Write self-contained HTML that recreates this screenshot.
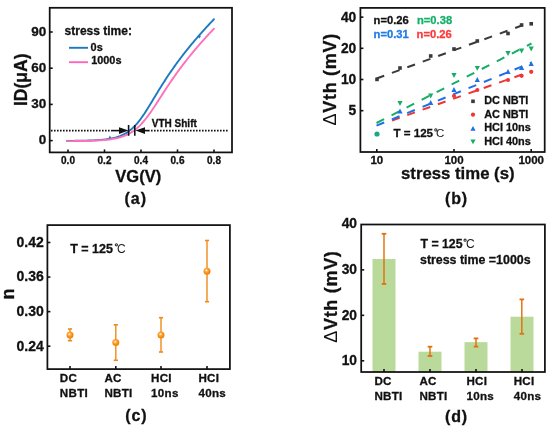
<!DOCTYPE html><html><head><meta charset="utf-8"><style>html,body{margin:0;padding:0;background:#fff;}svg{display:block;will-change:transform;}text{font-family:"Liberation Sans",sans-serif;}</style></head><body>
<svg width="550" height="431" viewBox="0 0 550 431">
<defs><radialGradient id="og" cx="0.42" cy="0.38" r="0.62"><stop offset="0" stop-color="#ffffff"/><stop offset="0.3" stop-color="#ffb04a"/><stop offset="0.7" stop-color="#f58a0c"/><stop offset="1" stop-color="#ee8410"/></radialGradient></defs>
<rect width="550" height="431" fill="#fff"/>
<rect x="49.7" y="7.8" width="182.3" height="144.6" fill="none" stroke="#111" stroke-width="1.75"/>
<line x1="49.7" y1="140.6" x2="52.7" y2="140.6" stroke="#111" stroke-width="1.6" />
<text x="46.3" y="144.2" font-size="13.5" text-anchor="end" font-weight="bold" fill="#111" stroke="#111" stroke-width="0.3" >0</text>
<line x1="49.7" y1="104.39999999999999" x2="52.7" y2="104.39999999999999" stroke="#111" stroke-width="1.6" />
<text x="46.3" y="107.99999999999999" font-size="13.5" text-anchor="end" font-weight="bold" fill="#111" stroke="#111" stroke-width="0.3" >30</text>
<line x1="49.7" y1="68.19999999999999" x2="52.7" y2="68.19999999999999" stroke="#111" stroke-width="1.6" />
<text x="46.3" y="71.79999999999998" font-size="13.5" text-anchor="end" font-weight="bold" fill="#111" stroke="#111" stroke-width="0.3" >60</text>
<line x1="49.7" y1="32.0" x2="52.7" y2="32.0" stroke="#111" stroke-width="1.6" />
<text x="46.3" y="35.6" font-size="13.5" text-anchor="end" font-weight="bold" fill="#111" stroke="#111" stroke-width="0.3" >90</text>
<line x1="68.0" y1="152.4" x2="68.0" y2="149.4" stroke="#111" stroke-width="1.6" />
<text x="68.0" y="164.2" font-size="10" text-anchor="middle" font-weight="bold" fill="#111" stroke="#111" stroke-width="0.3" >0.0</text>
<line x1="104.5" y1="152.4" x2="104.5" y2="149.4" stroke="#111" stroke-width="1.6" />
<text x="104.5" y="164.2" font-size="10" text-anchor="middle" font-weight="bold" fill="#111" stroke="#111" stroke-width="0.3" >0.2</text>
<line x1="141.0" y1="152.4" x2="141.0" y2="149.4" stroke="#111" stroke-width="1.6" />
<text x="141.0" y="164.2" font-size="10" text-anchor="middle" font-weight="bold" fill="#111" stroke="#111" stroke-width="0.3" >0.4</text>
<line x1="177.5" y1="152.4" x2="177.5" y2="149.4" stroke="#111" stroke-width="1.6" />
<text x="177.5" y="164.2" font-size="10" text-anchor="middle" font-weight="bold" fill="#111" stroke="#111" stroke-width="0.3" >0.6</text>
<line x1="214.0" y1="152.4" x2="214.0" y2="149.4" stroke="#111" stroke-width="1.6" />
<text x="214.0" y="164.2" font-size="10" text-anchor="middle" font-weight="bold" fill="#111" stroke="#111" stroke-width="0.3" >0.8</text>
<text x="115.3" y="181.5" font-size="16.5" text-anchor="start" font-weight="bold" fill="#111" stroke="#111" stroke-width="0.3" >VG(V)</text>
<text x="135.75" y="204.1" font-size="16" text-anchor="middle" font-weight="bold" fill="#111" stroke="#111" stroke-width="0.3" letter-spacing="0.9">(a)</text>
<text transform="translate(27.3,106) rotate(-90)" font-size="17.5" font-weight="bold" fill="#111" stroke="#111" stroke-width="0.3">ID(μA)</text>
<text x="64.6" y="35" font-size="12" text-anchor="start" font-weight="bold" fill="#111" stroke="#111" stroke-width="0.3" >stress time:</text>
<line x1="69" y1="47.8" x2="88" y2="47.8" stroke="#1a7abf" stroke-width="1.9" />
<text x="90.6" y="50.5" font-size="10.9" text-anchor="start" font-weight="bold" fill="#111" stroke="#111" stroke-width="0.3" >0s</text>
<line x1="69" y1="62.2" x2="88" y2="62.2" stroke="#ff66b8" stroke-width="1.9" />
<text x="91.2" y="64.3" font-size="10.9" text-anchor="start" font-weight="bold" fill="#111" stroke="#111" stroke-width="0.3" >1000s</text>
<polyline points="67.0,140.88 68.0,140.88 69.0,140.87 70.0,140.86 71.0,140.85 72.0,140.85 73.0,140.84 74.0,140.83 75.0,140.82 76.0,140.81 77.0,140.80 78.0,140.78 79.0,140.77 80.0,140.75 81.0,140.74 82.0,140.72 83.0,140.70 84.0,140.68 85.0,140.65 86.0,140.63 87.0,140.60 88.0,140.57 89.0,140.54 90.0,140.51 91.0,140.47 92.0,140.43 93.0,140.39 94.0,140.34 95.0,140.29 96.0,140.23 97.0,140.17 98.0,140.11 99.0,140.03 100.0,139.96 101.0,139.87 102.0,139.78 103.0,139.69 104.0,139.58 105.0,139.47 106.0,139.34 107.0,139.21 108.0,139.06 109.0,138.90 110.0,138.73 111.0,138.55 112.0,138.35 113.0,138.13 114.0,137.89 115.0,137.64 116.0,137.37 117.0,137.07 118.0,136.75 119.0,136.40 120.0,136.03 121.0,135.63 122.0,135.19 123.0,134.73 124.0,134.22 125.0,133.68 126.0,133.10 127.0,132.48 128.0,131.81 129.0,131.10 130.0,130.34 131.0,129.53 132.0,128.66 133.0,127.75 134.0,126.78 135.0,125.75 136.0,124.67 137.0,123.53 138.0,122.34 139.0,121.10 140.0,119.80 141.0,118.46 142.0,117.07 143.0,115.63 144.0,114.16 145.0,112.65 146.0,111.11 147.0,109.54 148.0,107.94 149.0,106.33 150.0,104.70 151.0,103.05 152.0,101.40 153.0,99.75 154.0,98.09 155.0,96.44 156.0,94.78 157.0,93.14 158.0,91.50 159.0,89.87 160.0,88.25 161.0,86.64 162.0,85.05 163.0,83.47 164.0,81.91 165.0,80.36 166.0,78.82 167.0,77.30 168.0,75.79 169.0,74.30 170.0,72.83 171.0,71.37 172.0,69.92 173.0,68.49 174.0,67.08 175.0,65.67 176.0,64.29 177.0,62.91 178.0,61.55 179.0,60.20 180.0,58.87 181.0,57.54 182.0,56.23 183.0,54.93 184.0,53.65 185.0,52.37 186.0,51.11 187.0,49.85 188.0,48.61 189.0,47.37 190.0,46.15 191.0,44.93 192.0,43.73 193.0,42.53 194.0,41.35 195.0,40.17 196.0,39.00 197.0,37.84 198.0,36.68 199.0,35.54 200.0,34.40 201.0,33.27 202.0,32.15 203.0,31.03 204.0,29.92 205.0,28.82 206.0,27.73 207.0,26.64 208.0,25.56 209.0,24.48 210.0,23.42 211.0,22.35 212.0,21.30 213.0,20.25 214.0,19.20" fill="none" stroke="#1a7abf" stroke-width="1.9" stroke-linecap="round" stroke-linejoin="round"/>
<polyline points="67.0,141.14 68.0,141.13 69.0,141.12 70.0,141.12 71.0,141.11 72.0,141.10 73.0,141.09 74.0,141.08 75.0,141.07 76.0,141.06 77.0,141.05 78.0,141.04 79.0,141.03 80.0,141.01 81.0,141.00 82.0,140.98 83.0,140.96 84.0,140.94 85.0,140.92 86.0,140.90 87.0,140.87 88.0,140.85 89.0,140.82 90.0,140.79 91.0,140.75 92.0,140.72 93.0,140.68 94.0,140.64 95.0,140.60 96.0,140.55 97.0,140.50 98.0,140.44 99.0,140.38 100.0,140.32 101.0,140.25 102.0,140.17 103.0,140.09 104.0,140.01 105.0,139.91 106.0,139.81 107.0,139.71 108.0,139.59 109.0,139.47 110.0,139.33 111.0,139.19 112.0,139.03 113.0,138.86 114.0,138.68 115.0,138.49 116.0,138.28 117.0,138.06 118.0,137.82 119.0,137.56 120.0,137.28 121.0,136.99 122.0,136.67 123.0,136.32 124.0,135.95 125.0,135.56 126.0,135.14 127.0,134.69 128.0,134.20 129.0,133.69 130.0,133.14 131.0,132.55 132.0,131.92 133.0,131.26 134.0,130.55 135.0,129.80 136.0,129.00 137.0,128.16 138.0,127.28 139.0,126.35 140.0,125.36 141.0,124.34 142.0,123.26 143.0,122.14 144.0,120.97 145.0,119.76 146.0,118.51 147.0,117.21 148.0,115.88 149.0,114.51 150.0,113.11 151.0,111.68 152.0,110.22 153.0,108.75 154.0,107.25 155.0,105.73 156.0,104.20 157.0,102.67 158.0,101.12 159.0,99.57 160.0,98.02 161.0,96.47 162.0,94.92 163.0,93.37 164.0,91.83 165.0,90.30 166.0,88.78 167.0,87.26 168.0,85.76 169.0,84.26 170.0,82.78 171.0,81.31 172.0,79.86 173.0,78.41 174.0,76.98 175.0,75.56 176.0,74.16 177.0,72.76 178.0,71.38 179.0,70.02 180.0,68.66 181.0,67.32 182.0,65.99 183.0,64.67 184.0,63.37 185.0,62.07 186.0,60.79 187.0,59.52 188.0,58.26 189.0,57.01 190.0,55.77 191.0,54.54 192.0,53.33 193.0,52.12 194.0,50.92 195.0,49.73 196.0,48.55 197.0,47.38 198.0,46.21 199.0,45.06 200.0,43.91 201.0,42.78 202.0,41.65 203.0,40.52 204.0,39.41 205.0,38.30 206.0,37.20 207.0,36.11 208.0,35.03 209.0,33.95 210.0,32.88 211.0,31.81 212.0,30.75 213.0,29.70 214.0,28.65" fill="none" stroke="#ff70b8" stroke-width="1.9" stroke-linecap="round" stroke-linejoin="round"/>
<path d="M108.6,138 L111.2,138 L109.9,135.6 Z" fill="#1a7abf"/>
<path d="M197.6,35.8 L201,35.8 L199.6,38.6 Z" fill="#1a7abf"/>
<line x1="51" y1="130.6" x2="111" y2="130.6" stroke="#111" stroke-width="1.6" stroke-dasharray="1.6 1.4"/>
<line x1="111" y1="130.6" x2="120" y2="130.6" stroke="#111" stroke-width="1.6" />
<line x1="145" y1="130.6" x2="148" y2="130.6" stroke="#111" stroke-width="1.6" />
<line x1="148" y1="130.6" x2="229" y2="130.6" stroke="#111" stroke-width="1.6" stroke-dasharray="1.6 1.4"/>
<path d="M119,127.3 L128.5,130.6 L119,134 Z" fill="#111"/>
<path d="M145,127.3 L135.5,130.6 L145,134 Z" fill="#111"/>
<line x1="128.6" y1="125" x2="128.6" y2="135.8" stroke="#111" stroke-width="1.6" />
<line x1="134.8" y1="125" x2="134.8" y2="135.8" stroke="#111" stroke-width="1.6" />
<text x="151.8" y="126.5" font-size="10" text-anchor="start" font-weight="bold" fill="#111" stroke="#111" stroke-width="0.3" >VTH Shift</text>
<rect x="360.4" y="7.9" width="184.30000000000007" height="144.1" fill="none" stroke="#111" stroke-width="1.75"/>
<line x1="360.4" y1="110.68670755078846" x2="363.4" y2="110.68670755078846" stroke="#111" stroke-width="1.6" />
<text x="356.3" y="115.28670755078845" font-size="13.8" text-anchor="end" font-weight="bold" fill="#111" stroke="#111" stroke-width="0.3" >5</text>
<line x1="360.4" y1="79.5" x2="363.4" y2="79.5" stroke="#111" stroke-width="1.6" />
<text x="356.3" y="84.1" font-size="13.8" text-anchor="end" font-weight="bold" fill="#111" stroke="#111" stroke-width="0.3" >10</text>
<line x1="360.4" y1="48.313292449211545" x2="363.4" y2="48.313292449211545" stroke="#111" stroke-width="1.6" />
<text x="356.3" y="52.913292449211546" font-size="13.8" text-anchor="end" font-weight="bold" fill="#111" stroke="#111" stroke-width="0.3" >20</text>
<line x1="360.4" y1="17.126584898423097" x2="363.4" y2="17.126584898423097" stroke="#111" stroke-width="1.6" />
<text x="356.3" y="21.7265848984231" font-size="13.8" text-anchor="end" font-weight="bold" fill="#111" stroke="#111" stroke-width="0.3" >40</text>
<line x1="376.8" y1="152" x2="376.8" y2="149" stroke="#111" stroke-width="1.6" />
<text x="376.8" y="163.9" font-size="11.5" text-anchor="middle" font-weight="bold" fill="#111" stroke="#111" stroke-width="0.3" >10</text>
<line x1="454.0" y1="152" x2="454.0" y2="149" stroke="#111" stroke-width="1.6" />
<text x="454.0" y="163.9" font-size="11.5" text-anchor="middle" font-weight="bold" fill="#111" stroke="#111" stroke-width="0.3" >100</text>
<line x1="531.2" y1="152" x2="531.2" y2="149" stroke="#111" stroke-width="1.6" />
<text x="531.2" y="163.9" font-size="11.5" text-anchor="middle" font-weight="bold" fill="#111" stroke="#111" stroke-width="0.3" >1000</text>
<text x="401" y="178.5" font-size="16.75" text-anchor="start" font-weight="bold" fill="#111" stroke="#111" stroke-width="0.3" >stress time (s)</text>
<text x="456.5" y="204.1" font-size="16" text-anchor="middle" font-weight="bold" fill="#111" stroke="#111" stroke-width="0.3" letter-spacing="0.9">(b)</text>
<text transform="translate(336.2,125.5) rotate(-90)" font-size="18" font-weight="bold" fill="#111" letter-spacing="0.7"><tspan font-weight="normal">Δ</tspan><tspan stroke="#111" stroke-width="0.3">Vth (mV)</tspan></text>
<text x="373.6" y="23.6" font-size="11.2" text-anchor="start" font-weight="bold" fill="#111" stroke="#111" stroke-width="0.3" >n=0.26</text>
<text x="417" y="23.6" font-size="11.2" text-anchor="start" font-weight="bold" fill="#17b06a" stroke="#17b06a" stroke-width="0.3" >n=0.38</text>
<text x="373.6" y="38.2" font-size="11.2" text-anchor="start" font-weight="bold" fill="#1f7be6" stroke="#1f7be6" stroke-width="0.3" >n=0.31</text>
<text x="416.6" y="38.2" font-size="11.2" text-anchor="start" font-weight="bold" fill="#fa3b3b" stroke="#fa3b3b" stroke-width="0.3" >n=0.26</text>
<line x1="392" y1="120.5" x2="522" y2="74.5" stroke="#f03535" stroke-width="2" stroke-dasharray="8.1 8.13"/>
<line x1="376.5" y1="125.6" x2="531.5" y2="62.6" stroke="#1f6fe8" stroke-width="2" stroke-dasharray="8.3 8.26"/>
<line x1="376.5" y1="123" x2="531.5" y2="43.5" stroke="#17ac68" stroke-width="2" stroke-dasharray="8.5 8.4"/>
<line x1="376.5" y1="78.5" x2="522.5" y2="25.3" stroke="#3a3a3a" stroke-width="2" stroke-dasharray="8.2 8.2"/>
<circle cx="454" cy="96" r="2.1" fill="#f03535"/>
<circle cx="477.3" cy="90" r="2.1" fill="#f03535"/>
<circle cx="508" cy="80" r="2.1" fill="#f03535"/>
<circle cx="521.6" cy="75.8" r="2.1" fill="#f03535"/>
<circle cx="531.2" cy="71.8" r="2.1" fill="#f03535"/>
<path d="M397.4,113.4 L402.6,113.4 L400,108.6 Z" fill="#1f6fe8"/>
<path d="M428.09999999999997,104.9 L433.3,104.9 L430.7,100.1 Z" fill="#1f6fe8"/>
<path d="M451.4,91.9 L456.6,91.9 L454,87.1 Z" fill="#1f6fe8"/>
<path d="M474.7,81.9 L479.90000000000003,81.9 L477.3,77.1 Z" fill="#1f6fe8"/>
<path d="M505.4,73.9 L510.6,73.9 L508,69.1 Z" fill="#1f6fe8"/>
<path d="M519.0,69.9 L524.2,69.9 L521.6,65.1 Z" fill="#1f6fe8"/>
<path d="M528.6,65.9 L533.8000000000001,65.9 L531.2,61.1 Z" fill="#1f6fe8"/>
<path d="M397.4,101.1 L402.6,101.1 L400,105.9 Z" fill="#17ac68"/>
<path d="M428.09999999999997,93.6 L433.3,93.6 L430.7,98.4 Z" fill="#17ac68"/>
<path d="M451.4,73.1 L456.6,73.1 L454,77.9 Z" fill="#17ac68"/>
<path d="M474.7,65.89999999999999 L479.90000000000003,65.89999999999999 L477.3,70.7 Z" fill="#17ac68"/>
<path d="M505.4,51.1 L510.6,51.1 L508,55.9 Z" fill="#17ac68"/>
<path d="M519.0,48.6 L524.2,48.6 L521.6,53.4 Z" fill="#17ac68"/>
<path d="M528.6,46.6 L533.8000000000001,46.6 L531.2,51.4 Z" fill="#17ac68"/>
<circle cx="377" cy="134" r="2.6" fill="#1fa58a"/>
<rect x="375.2" y="77.60000000000001" width="3.6" height="3.6" fill="#3a3a3a"/>
<rect x="398.2" y="66.2" width="3.6" height="3.6" fill="#3a3a3a"/>
<rect x="428.9" y="54.2" width="3.6" height="3.6" fill="#3a3a3a"/>
<rect x="452.2" y="47.2" width="3.6" height="3.6" fill="#3a3a3a"/>
<rect x="475.5" y="39.2" width="3.6" height="3.6" fill="#3a3a3a"/>
<rect x="506.2" y="31.7" width="3.6" height="3.6" fill="#3a3a3a"/>
<rect x="519.8000000000001" y="23.2" width="3.6" height="3.6" fill="#3a3a3a"/>
<rect x="529.4000000000001" y="22.0" width="3.6" height="3.6" fill="#3a3a3a"/>
<rect x="471.2" y="99.5" width="3.6" height="3.6" fill="#3a3a3a"/>
<circle cx="473" cy="114.7" r="2.1" fill="#f03535"/>
<path d="M470.4,130.70000000000002 L475.6,130.70000000000002 L473,125.9 Z" fill="#1f6fe8"/>
<path d="M470.4,139.5 L475.6,139.5 L473,144.3 Z" fill="#17ac68"/>
<text x="484.2" y="104.2" font-size="10.9" text-anchor="start" font-weight="bold" fill="#111" stroke="#111" stroke-width="0.3" >DC NBTI</text>
<text x="484.2" y="117.8" font-size="10.9" text-anchor="start" font-weight="bold" fill="#111" stroke="#111" stroke-width="0.3" >AC NBTI</text>
<text x="484.2" y="131.3" font-size="10.9" text-anchor="start" font-weight="bold" fill="#111" stroke="#111" stroke-width="0.3" >HCI 10ns</text>
<text x="484.2" y="144.9" font-size="10.9" text-anchor="start" font-weight="bold" fill="#111" stroke="#111" stroke-width="0.3" >HCI 40ns</text>
<text x="393.4" y="137.3" font-size="11.6" text-anchor="start" font-weight="bold" fill="#111" stroke="#111" stroke-width="0.3" >T = 125</text>
<circle cx="435.8" cy="129.9" r="1.1" fill="none" stroke="#333" stroke-width="1.1"/>
<text x="436.12" y="137.1" font-size="11.5" font-weight="normal" fill="#222">C</text>
<rect x="47.4" y="225.1" width="182.5" height="144.00000000000003" fill="none" stroke="#111" stroke-width="1.75"/>
<line x1="47.4" y1="346.2" x2="50.4" y2="346.2" stroke="#111" stroke-width="1.6" />
<text x="43.8" y="350.59999999999997" font-size="14" text-anchor="end" font-weight="bold" fill="#111" stroke="#111" stroke-width="0.3" >0.24</text>
<line x1="47.4" y1="311.6333333333333" x2="50.4" y2="311.6333333333333" stroke="#111" stroke-width="1.6" />
<text x="43.8" y="316.0333333333333" font-size="14" text-anchor="end" font-weight="bold" fill="#111" stroke="#111" stroke-width="0.3" >0.30</text>
<line x1="47.4" y1="277.06666666666666" x2="50.4" y2="277.06666666666666" stroke="#111" stroke-width="1.6" />
<text x="43.8" y="281.46666666666664" font-size="14" text-anchor="end" font-weight="bold" fill="#111" stroke="#111" stroke-width="0.3" >0.36</text>
<line x1="47.4" y1="242.5" x2="50.4" y2="242.5" stroke="#111" stroke-width="1.6" />
<text x="43.8" y="246.9" font-size="14" text-anchor="end" font-weight="bold" fill="#111" stroke="#111" stroke-width="0.3" >0.42</text>
<line x1="70" y1="369.1" x2="70" y2="366.1" stroke="#111" stroke-width="1.6" />
<line x1="115.8" y1="369.1" x2="115.8" y2="366.1" stroke="#111" stroke-width="1.6" />
<line x1="161" y1="369.1" x2="161" y2="366.1" stroke="#111" stroke-width="1.6" />
<line x1="207" y1="369.1" x2="207" y2="366.1" stroke="#111" stroke-width="1.6" />
<text transform="translate(14,299.5) rotate(-90)" font-size="18" font-weight="bold" fill="#111" stroke="#111" stroke-width="0.3">n</text>
<text x="70.2" y="252.8" font-size="12.5" text-anchor="start" font-weight="bold" fill="#111" stroke="#111" stroke-width="0.3" >T = 125</text>
<circle cx="116.4" cy="244.8" r="1.1" fill="none" stroke="#333" stroke-width="1.1"/>
<text x="116.99" y="253.1" font-size="12" font-weight="normal" fill="#222">C</text>
<line x1="70" y1="329" x2="70" y2="340.7" stroke="#f08a18" stroke-width="1.4" />
<line x1="67.9" y1="329" x2="72.1" y2="329" stroke="#f08a18" stroke-width="1.6" />
<line x1="67.9" y1="340.7" x2="72.1" y2="340.7" stroke="#f08a18" stroke-width="1.6" />
<circle cx="70" cy="335" r="3.5" fill="url(#og)"/>
<line x1="115.8" y1="324.8" x2="115.8" y2="360.3" stroke="#f08a18" stroke-width="1.4" />
<line x1="113.7" y1="324.8" x2="117.89999999999999" y2="324.8" stroke="#f08a18" stroke-width="1.6" />
<line x1="113.7" y1="360.3" x2="117.89999999999999" y2="360.3" stroke="#f08a18" stroke-width="1.6" />
<circle cx="115.8" cy="342.6" r="3.5" fill="url(#og)"/>
<line x1="161" y1="317.7" x2="161" y2="352" stroke="#f08a18" stroke-width="1.4" />
<line x1="158.9" y1="317.7" x2="163.1" y2="317.7" stroke="#f08a18" stroke-width="1.6" />
<line x1="158.9" y1="352" x2="163.1" y2="352" stroke="#f08a18" stroke-width="1.6" />
<circle cx="161" cy="335" r="3.5" fill="url(#og)"/>
<line x1="207" y1="240.5" x2="207" y2="301.7" stroke="#f08a18" stroke-width="1.4" />
<line x1="204.9" y1="240.5" x2="209.1" y2="240.5" stroke="#f08a18" stroke-width="1.6" />
<line x1="204.9" y1="301.7" x2="209.1" y2="301.7" stroke="#f08a18" stroke-width="1.6" />
<circle cx="207" cy="271.2" r="3.5" fill="url(#og)"/>
<text x="59.8" y="382.1" font-size="11.6" text-anchor="start" font-weight="bold" fill="#111" stroke="#111" stroke-width="0.3" letter-spacing="0.3">DC</text>
<text x="59.8" y="396.8" font-size="11.6" text-anchor="start" font-weight="bold" fill="#111" stroke="#111" stroke-width="0.3" letter-spacing="0.3">NBTI</text>
<text x="104.4" y="382.1" font-size="11.6" text-anchor="start" font-weight="bold" fill="#111" stroke="#111" stroke-width="0.3" letter-spacing="0.3">AC</text>
<text x="104.4" y="396.8" font-size="11.6" text-anchor="start" font-weight="bold" fill="#111" stroke="#111" stroke-width="0.3" letter-spacing="0.3">NBTI</text>
<text x="151" y="382.1" font-size="11.6" text-anchor="start" font-weight="bold" fill="#111" stroke="#111" stroke-width="0.3" letter-spacing="0.3">HCI</text>
<text x="151" y="396.8" font-size="11.6" text-anchor="start" font-weight="bold" fill="#111" stroke="#111" stroke-width="0.3" letter-spacing="0.3">10ns</text>
<text x="198.4" y="382.1" font-size="11.6" text-anchor="start" font-weight="bold" fill="#111" stroke="#111" stroke-width="0.3" letter-spacing="0.3">HCI</text>
<text x="198.4" y="396.8" font-size="11.6" text-anchor="start" font-weight="bold" fill="#111" stroke="#111" stroke-width="0.3" letter-spacing="0.3">40ns</text>
<text x="136.3" y="421.1" font-size="16" text-anchor="middle" font-weight="bold" fill="#111" stroke="#111" stroke-width="0.3" letter-spacing="0.9">(c)</text>
<rect x="372.5" y="258.95466666666664" width="23" height="113.04533333333336" fill="#b9da9a"/>
<rect x="418.5" y="351.7066666666667" width="23" height="20.293333333333294" fill="#b9da9a"/>
<rect x="464.5" y="342.1586666666667" width="23" height="29.841333333333296" fill="#b9da9a"/>
<rect x="510.5" y="316.69733333333335" width="23" height="55.30266666666665" fill="#b9da9a"/>
<rect x="361.2" y="224.5" width="183.7" height="147.5" fill="none" stroke="#111" stroke-width="1.75"/>
<line x1="361.2" y1="360.8" x2="364.2" y2="360.8" stroke="#111" stroke-width="1.6" />
<text x="357" y="365.0" font-size="13.8" text-anchor="end" font-weight="bold" fill="#111" stroke="#111" stroke-width="0.3" >10</text>
<line x1="361.2" y1="315.33333333333337" x2="364.2" y2="315.33333333333337" stroke="#111" stroke-width="1.6" />
<text x="357" y="319.53333333333336" font-size="13.8" text-anchor="end" font-weight="bold" fill="#111" stroke="#111" stroke-width="0.3" >20</text>
<line x1="361.2" y1="269.8666666666667" x2="364.2" y2="269.8666666666667" stroke="#111" stroke-width="1.6" />
<text x="357" y="274.06666666666666" font-size="13.8" text-anchor="end" font-weight="bold" fill="#111" stroke="#111" stroke-width="0.3" >30</text>
<text x="357" y="228.3" font-size="13.8" text-anchor="end" font-weight="bold" fill="#111" stroke="#111" stroke-width="0.3" >40</text>
<line x1="384" y1="372" x2="384" y2="369" stroke="#111" stroke-width="1.6" />
<line x1="384" y1="233.8" x2="384" y2="283.9" stroke="#e2700c" stroke-width="1.45" />
<line x1="381.7" y1="233.8" x2="386.3" y2="233.8" stroke="#e2700c" stroke-width="1.8" />
<line x1="381.7" y1="283.9" x2="386.3" y2="283.9" stroke="#e2700c" stroke-width="1.8" />
<line x1="430" y1="372" x2="430" y2="369" stroke="#111" stroke-width="1.6" />
<line x1="430" y1="346.7" x2="430" y2="356" stroke="#e2700c" stroke-width="1.45" />
<line x1="427.7" y1="346.7" x2="432.3" y2="346.7" stroke="#e2700c" stroke-width="1.8" />
<line x1="427.7" y1="356" x2="432.3" y2="356" stroke="#e2700c" stroke-width="1.8" />
<line x1="476" y1="372" x2="476" y2="369" stroke="#111" stroke-width="1.6" />
<line x1="476" y1="338.4" x2="476" y2="346.6" stroke="#e2700c" stroke-width="1.45" />
<line x1="473.7" y1="338.4" x2="478.3" y2="338.4" stroke="#e2700c" stroke-width="1.8" />
<line x1="473.7" y1="346.6" x2="478.3" y2="346.6" stroke="#e2700c" stroke-width="1.8" />
<line x1="522" y1="372" x2="522" y2="369" stroke="#111" stroke-width="1.6" />
<line x1="521.8" y1="299.4" x2="521.8" y2="333.8" stroke="#e2700c" stroke-width="1.45" />
<line x1="519.5" y1="299.4" x2="524.0999999999999" y2="299.4" stroke="#e2700c" stroke-width="1.8" />
<line x1="519.5" y1="333.8" x2="524.0999999999999" y2="333.8" stroke="#e2700c" stroke-width="1.8" />
<text transform="translate(336.6,342.8) rotate(-90)" font-size="18" font-weight="bold" fill="#111" letter-spacing="0.7"><tspan font-weight="normal">Δ</tspan><tspan stroke="#111" stroke-width="0.3">Vth (mV)</tspan></text>
<text x="420.5" y="248.3" font-size="12.3" text-anchor="start" font-weight="bold" fill="#111" stroke="#111" stroke-width="0.3" >T = 125</text>
<circle cx="465.1" cy="240.2" r="1.1" fill="none" stroke="#333" stroke-width="1.1"/>
<text x="465.99" y="248.0" font-size="12" font-weight="normal" fill="#222">C</text>
<text x="420" y="264.2" font-size="12.4" text-anchor="start" font-weight="bold" fill="#111" stroke="#111" stroke-width="0.3" >stress time =1000s</text>
<text x="374.4" y="385.2" font-size="11.6" text-anchor="start" font-weight="bold" fill="#111" stroke="#111" stroke-width="0.3" letter-spacing="0.3">DC</text>
<text x="374.4" y="399.8" font-size="11.6" text-anchor="start" font-weight="bold" fill="#111" stroke="#111" stroke-width="0.3" letter-spacing="0.3">NBTI</text>
<text x="419.4" y="385.2" font-size="11.6" text-anchor="start" font-weight="bold" fill="#111" stroke="#111" stroke-width="0.3" letter-spacing="0.3">AC</text>
<text x="419.4" y="399.8" font-size="11.6" text-anchor="start" font-weight="bold" fill="#111" stroke="#111" stroke-width="0.3" letter-spacing="0.3">NBTI</text>
<text x="466.4" y="385.2" font-size="11.6" text-anchor="start" font-weight="bold" fill="#111" stroke="#111" stroke-width="0.3" letter-spacing="0.3">HCI</text>
<text x="466.4" y="399.8" font-size="11.6" text-anchor="start" font-weight="bold" fill="#111" stroke="#111" stroke-width="0.3" letter-spacing="0.3">10ns</text>
<text x="513.7" y="385.2" font-size="11.6" text-anchor="start" font-weight="bold" fill="#111" stroke="#111" stroke-width="0.3" letter-spacing="0.3">HCI</text>
<text x="513.7" y="399.8" font-size="11.6" text-anchor="start" font-weight="bold" fill="#111" stroke="#111" stroke-width="0.3" letter-spacing="0.3">40ns</text>
<text x="456.5" y="421.5" font-size="16" text-anchor="middle" font-weight="bold" fill="#111" stroke="#111" stroke-width="0.3" letter-spacing="0.9">(d)</text>
</svg></body></html>
